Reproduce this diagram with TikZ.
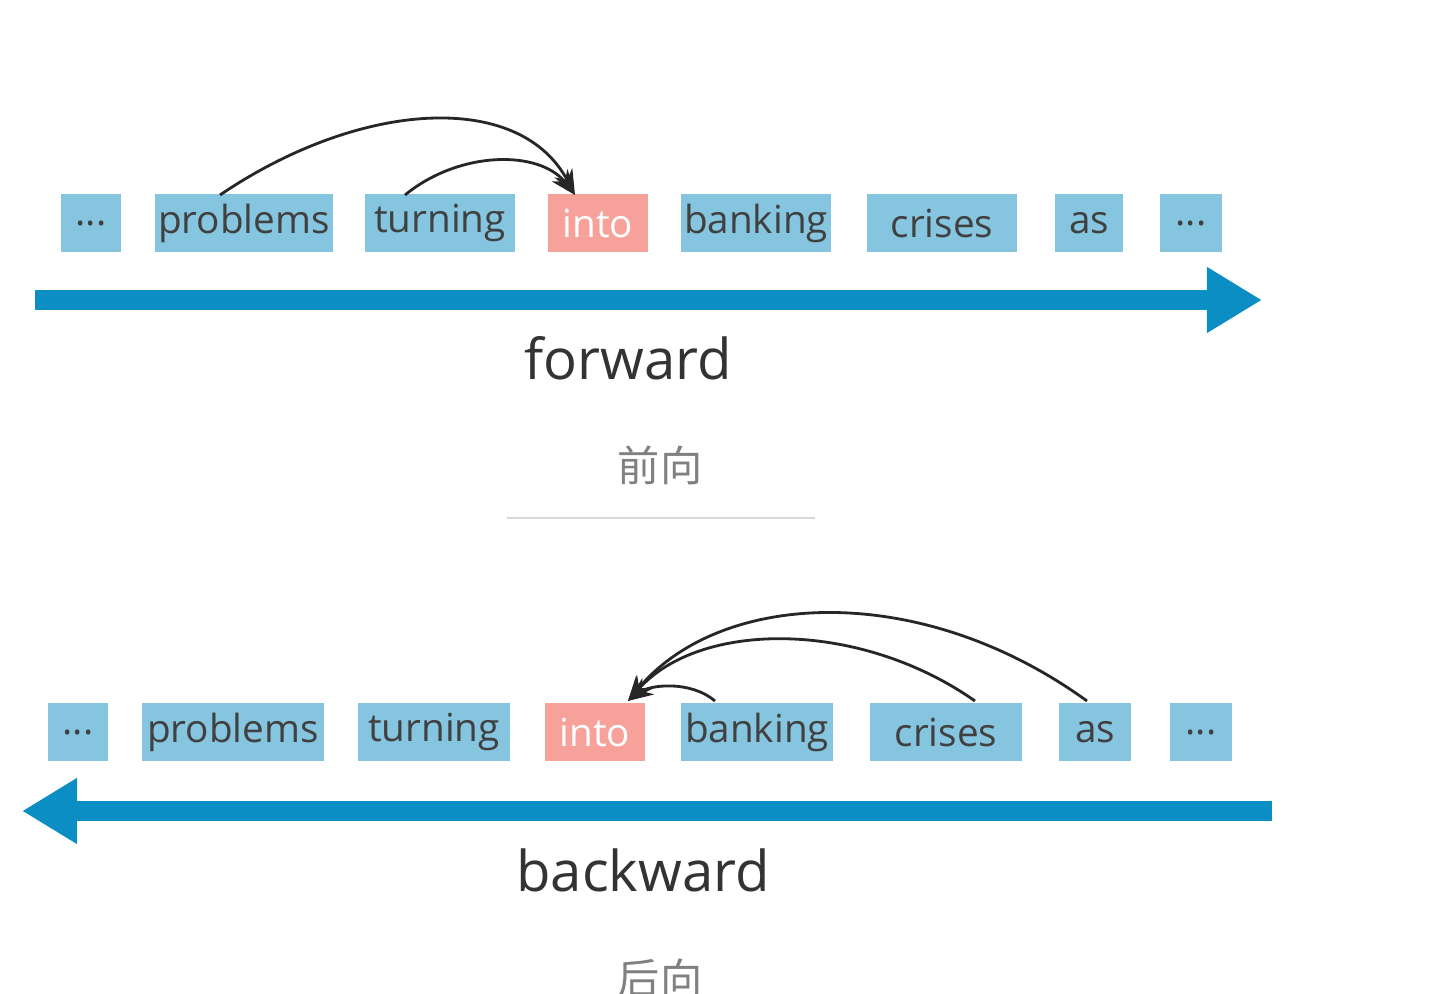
\documentclass[tikz,border=0pt]{standalone}
\usepackage{fontspec}
\setmainfont{Open Sans}
\newfontfamily\cjk{Noto Sans CJK SC}
\usetikzlibrary{arrows.meta}
\definecolor{wordblue}{HTML}{86C5DF}
\definecolor{wordpink}{HTML}{F7A19B}
\definecolor{flowblue}{HTML}{0B8EC3}
\tikzset{
  word/.style={fill=wordblue, text=black!75, minimum height=0.57cm, inner sep=0pt, font=\fontsize{11}{13}\selectfont},
  focus/.style={word, fill=wordpink, text=white},
  link/.style={-{Stealth[length=2.5mm,width=2mm]}, thick, black!85}
}
\begin{document}
\begin{tikzpicture}[x=0.01cm,y=-0.01cm]
  \useasboundingbox (0,0) rectangle (1444,994);
  % forward row
  \node [word, minimum width=0.59cm] (fa) at (91,223) {...};
  \node [word, minimum width=1.78cm] (fproblems) at (244,223) {problems};
  \node [word, minimum width=1.49cm] (fturning) at (440,223) {turning};
  \node [focus, minimum width=0.99cm] (finto) at (598,223) {into};
  \node [word, minimum width=1.49cm] (fbanking) at (756,223) {banking};
  \node [word, minimum width=1.49cm] (fcrises) at (942,223) {crises};
  \node [word, minimum width=0.68cm] (fas) at (1089,223) {as};
  \node [word, minimum width=0.61cm] (fb) at (1191,223) {...};
  \draw [link] (220,195) .. controls (360,100) and (520,90) .. (575,195);
  \draw [link] (405,195) .. controls (460,150) and (540,150) .. (575,195);
  \coordinate (fstart) at (35,300);
  \coordinate (fend) at (1262,300);
  \draw [flowblue, line width=0.2cm, -{Triangle[length=0.55cm,width=0.62cm]}] (fstart) -- (fend);
  \node [font=\fontsize{16}{18}\selectfont, text=black!80] (flabel) at (628,358) {forward};
  \node [font=\cjk\fontsize{12}{14}\selectfont, text=black!50] (fcap) at (660,465) {前向};
  \draw [black!15] (507,518) -- (815,518);
  % backward row
  \node [word, minimum width=0.60cm] (ba) at (78,732) {...};
  \node [word, minimum width=1.81cm] (bproblems) at (233,732) {problems};
  \node [word, minimum width=1.52cm] (bturning) at (434,732) {turning};
  \node [focus, minimum width=1.00cm] (binto) at (595,732) {into};
  \node [word, minimum width=1.52cm] (bbanking) at (757,732) {banking};
  \node [word, minimum width=1.52cm] (bcrises) at (946,732) {crises};
  \node [word, minimum width=0.71cm] (bas) at (1095,732) {as};
  \node [word, minimum width=0.62cm] (bb) at (1201,732) {...};
  \draw [link] (1087,701) .. controls (920,580) and (720,590) .. (628,701);
  \draw [link] (975,701) .. controls (860,620) and (700,620) .. (628,701);
  \draw [link] (715,701) .. controls (690,680) and (650,685) .. (628,701);
  \coordinate (bstart) at (1272,811);
  \coordinate (bend) at (22,811);
  \draw [flowblue, line width=0.2cm, -{Triangle[length=0.55cm,width=0.62cm]}] (bstart) -- (bend);
  \node [font=\fontsize{16}{18}\selectfont, text=black!80] (blabel) at (643,870) {backward};
  \node [font=\cjk\fontsize{12}{14}\selectfont, text=black!50] (bcap) at (660,978) {后向};
\end{tikzpicture}
\end{document}
